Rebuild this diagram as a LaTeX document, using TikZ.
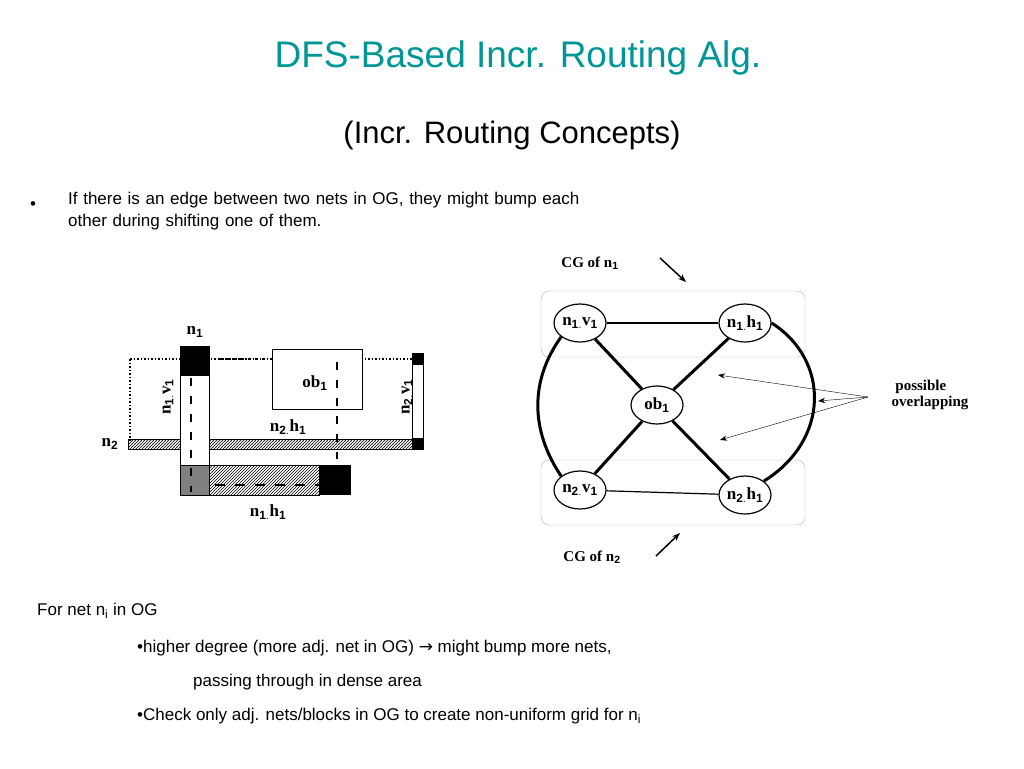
\documentclass[tikz,border=0pt]{standalone}
\usepackage{fontspec}
\setmainfont{Liberation Sans}
\newfontfamily\serifb{Liberation Serif}[BoldFont=* Bold]
\usetikzlibrary{patterns,arrows.meta,shapes.geometric}
\definecolor{teal1}{RGB}{0,150,150}
\begin{document}
\begin{tikzpicture}[x=1pt,y=-1pt,
 lab/.style={font=\serifb\bfseries\fontsize{17}{17}\selectfont,inner sep=0},
 gn/.style={ellipse,draw,line width=1.2pt,minimum width=52,minimum height=38,inner sep=0,font=\serifb\bfseries\fontsize{17}{17}\selectfont,fill=white},
 body/.style={font=\fontsize{17}{20}\selectfont,anchor=west,inner sep=0}]
\useasboundingbox (0,0) rectangle (1024,768);
\node[font=\fontsize{37}{40}\selectfont,text=teal1] (t1) at (518,58) {DFS-Based Incr. Routing Alg.};
\node[font=\fontsize{31}{34}\selectfont] (t2) at (512,135) {(Incr. Routing Concepts)};
\node[body] (b0) at (30,206) {•};
\node[body,align=left,text width=940,anchor=north west] (b1) at (68,192) {If there is an edge between two nets in OG, they might bump each\\[2pt]other during shifting one of them.};
% left diagram
\draw[dotted,line width=1.5pt] (130,359) -- (418,359);
\draw[dotted,line width=1.5pt] (130,359) -- (130,440);
\draw[dash dot,line width=1.5pt] (218,359) -- (337,359);
\node[draw,fill=white,minimum width=90,minimum height=60,anchor=north west,inner sep=0] (ob) at (272,349) {};
\node[lab] at (315,383) {ob$_{\mathbf 1}$};
\draw[pattern=north east lines,draw=black] (128,439) rectangle (418,449);
\draw[pattern=dots,draw=none] (128,439) rectangle (418,449);
\draw[fill=white] (180,346) rectangle (209,465);
\fill (180,346) rectangle (209,376);
\draw (412,353) rectangle (423,449);
\fill (412,353) rectangle (423,365);
\fill (412,438) rectangle (423,449);
\fill[gray] (180,465) rectangle (209,495);
\draw (180,465) rectangle (209,495);
\draw[pattern=north east lines] (209,465) rectangle (319,495);
\fill (319,465) rectangle (351,495);
\draw[dashed,line width=1.5pt,dash pattern=on 8pt off 10pt] (191,378) -- (191,492);
\draw[dashed,line width=1.5pt,dash pattern=on 8pt off 10pt] (337,362) -- (337,459);
\draw[line width=1.5pt,dash pattern=on 10pt off 10pt] (215,485) -- (319,485);
\node[lab] at (195,332) {n$_{\mathbf 1}$};
\node[lab,rotate=90] at (168,397) {n$_{\mathbf 1.}$v$_{\mathbf 1}$};
\node[lab,rotate=90] at (407,397) {n$_{\mathbf 2.}$v$_{\mathbf 1}$};
\node[lab] at (288,427) {n$_{\mathbf 2.}$h$_{\mathbf 1}$};
\node[lab] at (110,444) {n$_{\mathbf 2}$};
\node[lab] at (268,512) {n$_{\mathbf 1.}$h$_{\mathbf 1}$};
% right graph
\draw[gray!60,rounded corners=8] (541,291) rectangle (805,357);
\draw[gray!60,rounded corners=8] (541,460) rectangle (805,525);
\node[lab,font=\serifb\bfseries\fontsize{15}{15}\selectfont] (cg1) at (590,263) {CG of n$_{\mathbf 1}$};
\node[lab,font=\serifb\bfseries\fontsize{15}{15}\selectfont] (cg2) at (592,557) {CG of n$_{\mathbf 2}$};
\coordinate (c1a) at (660,258); \coordinate (c1b) at (686,282);
\coordinate (c2a) at (656,556); \coordinate (c2b) at (680,533);
\draw[-{Stealth[length=8pt]},line width=1.5pt] (c1a) -- (c1b);
\draw[-{Stealth[length=8pt]},line width=1.5pt] (c2a) -- (c2b);
\node[gn] (a) at (580,323) {n$_{\mathbf 1.}$v$_{\mathbf 1}$};
\node[gn] (b) at (745,323) {n$_{\mathbf 1.}$h$_{\mathbf 1}$};
\node[gn] (o) at (657,405) {ob$_{\mathbf 1}$};
\node[gn] (c) at (580,490) {n$_{\mathbf 2.}$v$_{\mathbf 1}$};
\node[gn] (d) at (745,495) {n$_{\mathbf 2.}$h$_{\mathbf 1}$};
\draw[line width=1.2pt] (a) -- (b);
\draw[line width=1.2pt] (c) -- (d);
\draw[line width=3pt] (a) -- (o); \draw[line width=3pt] (b) -- (o);
\draw[line width=3pt] (c) -- (o); \draw[line width=3pt] (d) -- (o);
\draw[line width=3pt] (a.south west) .. controls (530,380) and (530,430) .. (c.north west);
\draw[line width=3pt] (b.east) .. controls (830,360) and (830,440) .. (d.north east);
\node[lab,font=\serifb\bfseries\fontsize{15}{16}\selectfont,align=left] (po) at (930,395) {\ possible\\overlapping};
\coordinate (p0) at (868,397);
\coordinate (q1) at (718,375); \coordinate (q2) at (720,440); \coordinate (q3) at (818,401);
\draw[-{Stealth[length=7pt]}] (p0) -- (q1);
\draw[-{Stealth[length=7pt]}] (p0) -- (q2);
\draw[-{Stealth[length=7pt]}] (p0) -- (q3);
% bottom text
\node[body] (f1) at (37,611) {For net n\textsubscript{i} in OG};
\node[body] (f2) at (137,648) {•higher degree (more adj. net in OG) {\fontspec{DejaVu Sans}\char"2192} might bump more nets,};
\node[body] (f3) at (193,682) {passing through in dense area};
\node[body] (f4) at (137,716) {•Check only adj. nets/blocks in OG to create non-uniform grid for n\textsubscript{i}};
\end{tikzpicture}
\end{document}
